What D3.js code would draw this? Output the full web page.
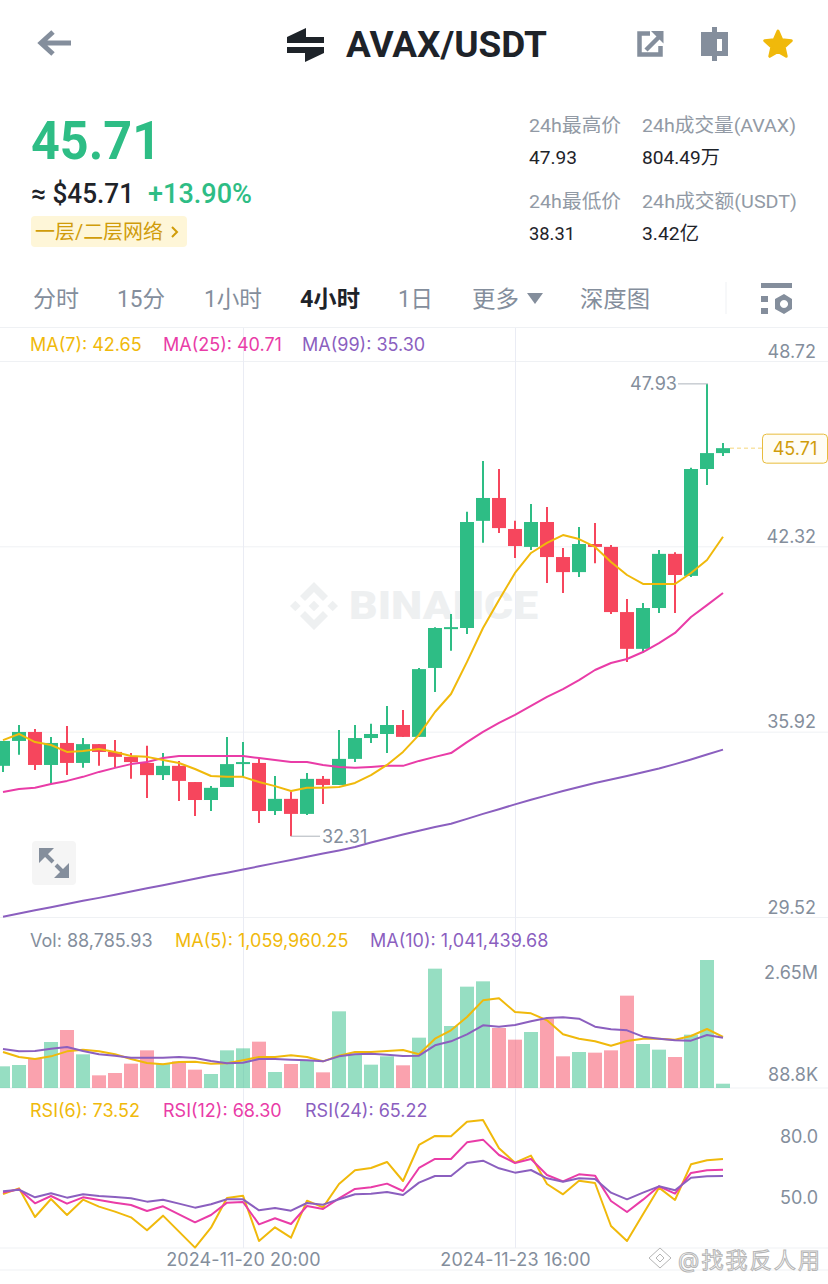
<!DOCTYPE html>
<html>
<head>
<meta charset="utf-8">
<script src="https://cdn.jsdelivr.net/npm/d3@7"></script>
<style>
  html, body { margin: 0; padding: 0; background: #fff; }
  svg { display: block; }
  text { font-family: Inter, "Noto Sans CJK SC", sans-serif; }
  .din { font-family: Roboto, "Noto Sans CJK SC", sans-serif; }
</style>
</head>
<body>
<div id="chart"></div>
<script>
// AVAX/USDT 4h candles
const opens = [34.74,35.60,35.91,34.77,35.53,34.84,35.49,35.22,35.05,34.84,34.42,34.74,34.18,33.56,34.01,34.84,34.84,33.18,33.60,33.08,34.29,34.08,34.98,35.70,35.84,36.15,35.74,38.12,39.50,39.50,43.20,43.99,42.92,42.30,43.16,41.95,41.43,42.40,42.30,40.05,38.78,40.19,42.06,41.30,44.99,45.54];
const closes = [35.60,35.91,34.77,35.53,34.84,35.49,35.22,35.05,34.87,34.42,34.74,34.22,33.56,33.98,34.80,34.87,33.18,33.60,33.08,34.29,34.08,34.98,35.70,35.84,36.15,35.74,38.08,39.50,39.53,43.16,43.99,42.95,42.33,43.16,41.95,41.43,42.40,42.30,40.05,38.78,40.19,42.06,41.33,44.99,45.54,45.71];
const highs = [35.60,36.15,36.01,35.74,36.12,35.70,35.49,35.63,35.18,35.43,35.18,34.91,34.18,34.04,35.74,35.56,34.98,34.39,33.84,34.49,34.39,35.98,36.15,36.19,36.81,36.67,38.12,39.53,39.98,43.51,45.27,44.99,43.20,43.78,43.68,42.26,42.99,43.13,42.37,40.50,40.36,42.19,42.12,45.03,47.93,45.89];
const lows = [34.53,35.12,34.60,34.11,34.42,34.67,34.74,34.70,34.29,33.63,34.25,33.53,33.01,33.18,34.01,34.36,32.77,33.04,32.31,33.04,33.42,34.08,34.87,35.53,35.18,35.74,35.74,37.29,38.71,39.29,42.44,42.78,41.92,42.19,41.05,40.71,41.26,41.74,39.98,38.33,38.64,40.02,40.02,41.26,44.44,45.44];

const ma7 = [35.63,35.84,35.56,35.46,35.22,35.25,35.32,35.22,35.08,35.05,34.94,34.84,34.63,34.39,34.36,34.36,34.18,34.04,33.87,33.98,33.98,34.01,34.15,34.42,34.77,35.22,35.81,36.60,37.22,38.33,39.50,40.47,41.40,42.09,42.44,42.71,42.57,42.30,41.78,41.33,41.02,41.02,41.02,41.40,41.85,42.65];
const ma25 = [33.84,33.94,33.98,34.11,34.22,34.36,34.53,34.67,34.80,34.87,35.01,35.08,35.08,35.08,35.08,35.08,35.01,34.94,34.87,34.87,34.77,34.70,34.67,34.70,34.74,34.74,34.91,35.05,35.18,35.56,35.91,36.22,36.50,36.81,37.12,37.39,37.70,38.05,38.29,38.43,38.67,38.98,39.33,39.88,40.29,40.71];
const ma99 = [29.53,29.64,29.75,29.86,29.97,30.08,30.18,30.29,30.40,30.51,30.62,30.73,30.84,30.95,31.05,31.16,31.27,31.38,31.49,31.60,31.71,31.82,31.94,32.09,32.23,32.37,32.50,32.63,32.74,32.91,33.08,33.24,33.41,33.57,33.72,33.87,34.01,34.15,34.27,34.39,34.52,34.65,34.80,34.96,35.13,35.30];

const volumes = [448600,476200,607300,952300,1200800,697000,262200,310500,503800,779800,503800,552100,379600,289800,779800,821200,959200,331200,496900,559000,324300,1587200,710800,483100,655600,469300,1042100,2470600,1283600,2097900,2208300,1242200,1000600,1159400,1435400,655600,745300,731500,779800,1911600,910900,793600,641800,1104200,2650000,88786];
const volMa5 = [745300,641800,600400,655600,759100,793600,759100,697000,600400,517600,490000,538300,545200,503800,510700,572800,641800,641800,676300,641800,552100,669400,745300,745300,766000,786700,697000,1021300,1193900,1469900,1815000,1856400,1573400,1545800,1400900,1111100,1021300,966100,876400,973000,1021300,1021300,1000600,1076600,1221500,1059960];
const volMa10 = [807400,759100,766000,814300,848800,766000,697000,669400,628000,628000,628000,641800,621100,559000,510700,524500,600400,600400,586600,572800,552100,655600,697000,710800,690100,662500,669400,883300,966100,1111100,1297400,1269800,1304300,1380200,1449200,1463000,1435400,1269800,1214600,1193900,1062800,1021300,986800,979900,1097300,1041440];

const rsi6 = [56.45,59.21,45.23,54.01,46.20,53.68,50.27,47.83,45.06,38.72,45.88,38.07,30.27,40.02,54.50,55.63,33.52,40.19,35.15,53.19,49.94,61.32,67.99,69.13,72.06,62.79,80.35,84.74,84.58,91.73,92.54,78.72,71.73,75.15,61.32,56.28,62.95,61.81,40.84,33.52,46.53,59.54,53.52,70.92,72.87,73.52];
const rsi12 = [57.10,58.72,51.89,55.47,51.73,54.82,53.52,52.22,51.08,48.15,50.43,46.53,42.63,46.20,52.22,52.54,41.65,44.58,41.81,50.59,49.13,54.33,58.89,59.70,61.49,57.91,69.13,73.52,73.52,81.65,82.95,75.47,71.57,73.52,65.72,62.63,66.04,65.39,53.03,47.67,53.68,60.19,56.61,66.69,67.99,68.30];
const rsi24 = [57.75,58.56,54.82,56.77,54.66,56.28,55.47,54.98,54.33,52.71,53.68,51.73,49.78,51.41,53.85,53.85,48.48,49.62,48.32,52.06,51.24,53.85,56.28,56.61,57.42,55.96,61.98,65.23,65.23,71.57,72.71,68.97,66.85,68.15,64.09,62.46,64.09,63.76,57.10,53.85,57.10,60.19,58.24,64.41,65.06,65.22];

const priceTicks = [48.72, 42.32, 35.92, 29.52];
const volTicks = [2650000, 88786];
const volTickLabels = ["2.65M", "88.8K"];
const rsiTicks = [80, 50];
const dateTickIndex = [15, 32];
const dateTickLabels = ["2024-11-20 20:00", "2024-11-23 16:00"];

const GREEN = "#2EBD85", RED = "#F6465D", GOLD = "#F0B90B", PINK = "#E93CA7", PURPLE = "#8B5FBF";
const GREY = "#848E9C", DARK = "#1E2329", GRID = "#EFF1F4";

const svg = d3.select("#chart").append("svg")
    .attr("width", 828)
    .attr("height", 1284);

const idx = d3.range(opens.length);

const x = d3.scaleLinear().domain([0, 45]).range([3, 723]);
const y = d3.scaleLinear().domain([29.52, 48.72]).range([917, 361]);
const yVol = d3.scaleLinear().domain([0, 2650000]).range([1088, 960]);
const yRsi = d3.scaleLinear().domain([50, 80]).range([1207.2, 1145.7]);

function label(txt, lx, ly, size, fill, opts) {
  opts = opts || {};
  return svg.append("text")
    .attr("class", opts.cls || null)
    .attr("x", lx).attr("y", ly)
    .attr("dominant-baseline", "central")
    .attr("text-anchor", opts.anchor || "start")
    .attr("font-size", size)
    .attr("font-weight", opts.weight || 400)
    .attr("fill", fill)
    .text(txt);
}

// ---- header
const icons = svg.append("g");
icons.append("path").attr("d", "M71 43H42M53 32L41 43L53 54")
  .attr("fill", "none").attr("stroke", GREY).attr("stroke-width", 5);
icons.append("path").attr("fill", DARK)
  .attr("d", "M287 37H324V43H287ZM287 47H324V53H287ZM287 37L306 28V37ZM324 53L305 62V53Z");
icons.append("path").attr("fill", "none").attr("stroke", GREY).attr("stroke-width", 4.5)
  .attr("d", "M650 33.5H639.5V54.5H660.5V46");
icons.append("path").attr("fill", "none").attr("stroke", GREY).attr("stroke-width", 4.5)
  .attr("d", "M646 50L659 37");
icons.append("path").attr("fill", GREY).attr("d", "M651 31H663.5V43.5Z");
icons.append("path").attr("fill", GREY).attr("fill-rule", "evenodd")
  .attr("d", "M701 32H712V27H717V32H728V56H717V61H712V56H701ZM717 39V51H722V39Z");
icons.append("path").attr("fill", GOLD).attr("stroke", GOLD).attr("stroke-width", 3).attr("stroke-linejoin", "round")
  .attr("d", d3.range(10).map((i) => {
    const r = i % 2 ? 6.5 : 14, a = -Math.PI / 2 + i * Math.PI / 5;
    return (i ? "L" : "M") + (778 + r * Math.cos(a)) + " " + (45 + r * Math.sin(a));
  }).join("") + "Z");

label("AVAX/USDT", 346, 45, 36, DARK, {cls: "din", weight: 700}).attr("textLength", 201);
label("45.71", 31, 140, 54, GREEN, {cls: "din", weight: 700}).attr("textLength", 130);
label("≈ $45.71", 31, 194, 27, DARK, {cls: "din", weight: 500}).attr("textLength", 103);
label("+13.90%", 148, 194, 27, GREEN, {cls: "din", weight: 500}).attr("textLength", 104);

svg.append("rect").attr("x", 31).attr("y", 216).attr("width", 156).attr("height", 31)
  .attr("rx", 4).attr("fill", "#FEF6D8");
label("一层/二层网络", 35, 232, 20, "#D09C0A", {cls: "din"}).attr("textLength", 128);
svg.append("path").attr("d", "M172 227L177 232L172 237").attr("fill", "none")
  .attr("stroke", "#D09C0A").attr("stroke-width", 2);

label("24h最高价", 529, 125, 19, "#929AA5", {cls: "din"}).attr("textLength", 92);
label("47.93", 529, 157, 19, DARK, {cls: "din"}).attr("textLength", 48);
label("24h成交量(AVAX)", 642, 125, 19, "#929AA5", {cls: "din"}).attr("textLength", 154);
label("804.49万", 642, 157, 19, DARK, {cls: "din"}).attr("textLength", 78);
label("24h最低价", 529, 201, 19, "#929AA5", {cls: "din"}).attr("textLength", 92);
label("38.31", 529, 233, 19, DARK, {cls: "din"}).attr("textLength", 46);
label("24h成交额(USDT)", 642, 201, 19, "#929AA5", {cls: "din"}).attr("textLength", 155);
label("3.42亿", 642, 233, 19, DARK, {cls: "din"}).attr("textLength", 57);

// ---- interval tabs
[["分时", 33, 46], ["15分", 117, 48], ["1小时", 204, 58], ["1日", 398, 35], ["更多", 472, 47], ["深度图", 580, 70]]
  .forEach((t) => label(t[0], t[1], 299, 23, GREY, {cls: "din"}).attr("textLength", t[2]));
label("4小时", 300, 299, 23, DARK, {cls: "din", weight: 700}).attr("textLength", 60);
svg.append("path").attr("d", "M527 293H543L535 304Z").attr("fill", GREY);
svg.append("line").attr("x1", 726).attr("x2", 726).attr("y1", 282).attr("y2", 314).attr("stroke", GRID);
icons.append("path").attr("fill", GREY)
  .attr("d", "M761 283H792V288H761ZM761 296H768V302H761ZM761 308H768V314H761ZM784 294L792 299V309L784 314L775 309V299ZM784 300A4 4 0 1 0 784.01 300Z");

// squeeze the glyphs, the original face is narrower than Roboto
svg.selectAll("text[textLength]").attr("lengthAdjust", "spacingAndGlyphs");

svg.append("line").attr("x1", 0).attr("x2", 828).attr("y1", 327.5).attr("y2", 327.5).attr("stroke", GRID);

// ---- watermark behind the candles
const wm = svg.append("g").attr("fill", "#EEF0F1");
wm.append("path")
  .attr("d", "M314 582L328 596L323 601L314 592L305 601L300 596Z"
    + "M314 630L328 616L323 611L314 620L305 611L300 616Z"
    + "M314 600.7L319.3 606L314 611.3L308.7 606Z"
    + "M295.3 600.7L300.6 606L295.3 611.3L290 606Z"
    + "M332.7 600.7L338 606L332.7 611.3L327.4 606Z");
wm.append("text").attr("class", "din").attr("x", 349).attr("y", 606)
  .attr("dominant-baseline", "central").attr("font-size", 38).attr("font-weight", 900)
  .attr("textLength", 189).attr("lengthAdjust", "spacingAndGlyphs").text("BINANCE");

// ---- gridlines + axes
const priceAxis = svg.append("g")
  .attr("transform", "translate(828,0)")
  .call(d3.axisRight(y).tickValues(priceTicks).tickSize(-828).tickFormat(d3.format(".2f")));
priceAxis.select(".domain").remove();
priceAxis.selectAll("line").attr("stroke", GRID);
priceAxis.selectAll("text")
  .attr("x", -12).attr("y", -10).attr("dy", "0.35em")
  .attr("text-anchor", "end").attr("font-size", 18).attr("fill", GREY)
  .style("font-family", "Inter");

const dateAxis = svg.append("g")
  .attr("transform", "translate(0,1248)")
  .call(d3.axisBottom(x).tickValues(dateTickIndex).tickSize(-920)
    .tickFormat((d, i) => dateTickLabels[i]));
dateAxis.select(".domain").remove();
dateAxis.selectAll("line").attr("stroke", "#EAECF4");
dateAxis.selectAll("text")
  .attr("y", 12).attr("dy", "0.35em").attr("font-size", 18).attr("fill", GREY)
  .attr("letter-spacing", 0.1)
  .style("font-family", "Inter");

[1088, 1248, 1270].forEach((ly) => {
  svg.append("line").attr("x1", 0).attr("x2", 828).attr("y1", ly).attr("y2", ly).attr("stroke", GRID);
});

const volAxis = svg.append("g")
  .attr("transform", "translate(828,0)")
  .call(d3.axisRight(yVol).tickValues(volTicks).tickSize(0)
    .tickFormat((d, i) => volTickLabels[i]));
volAxis.select(".domain").remove();
volAxis.selectAll("text")
  .attr("x", -10).attr("y", (d, i) => i ? -10 : 12).attr("dy", "0.35em")
  .attr("text-anchor", "end").attr("font-size", 18).attr("fill", GREY)
  .style("font-family", "Inter");

const rsiAxis = svg.append("g")
  .attr("transform", "translate(828,0)")
  .call(d3.axisRight(yRsi).tickValues(rsiTicks).tickSize(0).tickFormat(d3.format(".1f")));
rsiAxis.select(".domain").remove();
rsiAxis.selectAll("text")
  .attr("x", -10).attr("y", -10).attr("dy", "0.35em")
  .attr("text-anchor", "end").attr("font-size", 18).attr("fill", GREY)
  .style("font-family", "Inter");

// ---- candles
const colour = (i) => closes[i] >= opens[i] ? GREEN : RED;
const candles = svg.append("g");
candles.selectAll("line").data(idx).join("line")
  .attr("x1", (i) => x(i)).attr("x2", (i) => x(i))
  .attr("y1", (i) => y(highs[i])).attr("y2", (i) => y(lows[i]))
  .attr("stroke", colour).attr("stroke-width", 2);
candles.selectAll("rect").data(idx).join("rect")
  .attr("x", (i) => x(i) - 7).attr("width", 14)
  .attr("y", (i) => y(Math.max(opens[i], closes[i])))
  .attr("height", (i) => Math.max(2, Math.abs(y(opens[i]) - y(closes[i]))))
  .attr("fill", colour);

const lineOf = (scale, values) => d3.line().x((d, i) => x(i)).y((d) => scale(d))(values);
function series(scale, values, col, width) {
  svg.append("path")
    .attr("d", lineOf(scale, values))
    .attr("fill", "none").attr("stroke", col).attr("stroke-width", width || 2)
    .attr("stroke-linejoin", "round");
}
series(y, ma99, PURPLE);
series(y, ma25, PINK);
series(y, ma7, GOLD);

// ---- price callouts
svg.append("line").attr("x1", x(44) + 1).attr("x2", 678).attr("y1", y(47.93)).attr("y2", y(47.93)).attr("stroke", "#AEB4BC");
label("47.93", 630, y(47.93), 18, GREY);
svg.append("line").attr("x1", x(18)).attr("x2", 320).attr("y1", y(32.31)).attr("y2", y(32.31)).attr("stroke", "#AEB4BC");
label("32.31", 322, y(32.31), 18, GREY);

svg.append("line").attr("x1", x(45) + 7).attr("x2", 762).attr("y1", y(45.71)).attr("y2", y(45.71))
  .attr("stroke", "#F5D77A").attr("stroke-dasharray", "4 3");
svg.append("rect").attr("x", 762.5).attr("y", y(45.71) - 14).attr("width", 65).attr("height", 29)
  .attr("rx", 4).attr("fill", "#FFFDF5").attr("stroke", "#E8BC3C");
label("45.71", 795, y(45.71), 18, "#D09C0A", {anchor: "middle"});

// ---- expand button
svg.append("rect").attr("x", 32).attr("y", 841).attr("width", 44).attr("height", 44).attr("rx", 4).attr("fill", "#F5F5F5");
svg.append("path").attr("fill", "none").attr("stroke", GREY).attr("stroke-width", 4)
  .attr("d", "M46 855L53 862M56 865L63 872");
svg.append("path").attr("fill", GREY)
  .attr("d", "M39 848H54L39 863ZM69 878H54L69 863Z");

// ---- legends
function legend(items, ly) {
  items.forEach((t) => label(t[0], t[1], ly, 18, t[2]));
}
legend([["MA(7): 42.65", 30, GOLD], ["MA(25): 40.71", 163, PINK], ["MA(99): 35.30", 302, PURPLE]], 344);
legend([["Vol: 88,785.93", 30, GREY], ["MA(5): 1,059,960.25", 175, GOLD], ["MA(10): 1,041,439.68", 370, PURPLE]], 940);
legend([["RSI(6): 73.52", 30, GOLD], ["RSI(12): 68.30", 163, PINK], ["RSI(24): 65.22", 305, PURPLE]], 1110);

// ---- volume
svg.append("g").selectAll("rect").data(idx).join("rect")
  .attr("x", (i) => x(i) - 7).attr("width", 14)
  .attr("y", (i) => yVol(volumes[i]))
  .attr("height", (i) => yVol(0) - yVol(volumes[i]))
  .attr("fill", colour).attr("fill-opacity", 0.5);
series(yVol, volMa5, GOLD);
series(yVol, volMa10, PURPLE);

// ---- rsi
series(yRsi, rsi6, GOLD);
series(yRsi, rsi12, PINK);
series(yRsi, rsi24, PURPLE);

// ---- reposted-image mark, bottom right
const mark = svg.append("g").attr("fill", "#fff").attr("stroke", "#B5B5B5").attr("stroke-width", 1);
mark.append("path")
  .attr("d", "M660 1248L671 1258L660 1268L649 1258ZM660 1254L656 1258L660 1262L664 1258Z")
  .attr("fill-rule", "evenodd");
mark.append("text").attr("x", 678).attr("y", 1260).attr("dominant-baseline", "central")
  .attr("font-size", 22).attr("textLength", 142).text("@找我反人用");
</script>
</body>
</html>
